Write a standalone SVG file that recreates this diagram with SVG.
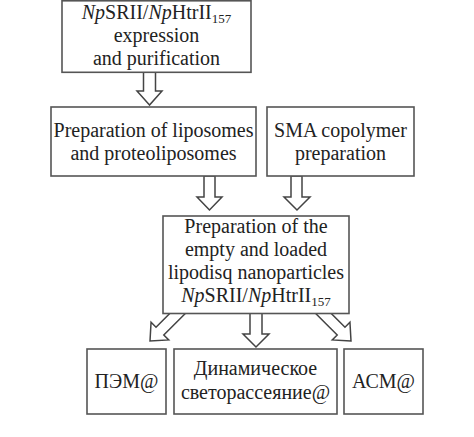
<svg xmlns="http://www.w3.org/2000/svg" width="474" height="437" viewBox="0 0 474 437">
<style>
.box{fill:#fff;stroke:#555;stroke-width:1.6}
.arr{fill:#fff;stroke:#444;stroke-width:1.5;stroke-linejoin:miter}
text{font-family:"Liberation Serif","Times New Roman",serif;font-size:20px;fill:#222;text-anchor:middle}
.i{font-style:italic}
.sub{font-size:13px}
</style>
<defs>
<path id="a" d="M0,0 L-12.5,-14 L-5.5,-14 L-5.5,-60 L5.5,-60 L5.5,-14 L12.5,-14 Z"/>
</defs>
<rect width="474" height="437" fill="#fff"/>
<g id="connectors">
<path class="arr" d="M149.5,105 L137,91 L143.5,91 L143.5,72 L155.5,72 L155.5,91 L162,91 Z"/>
<path class="arr" d="M209.5,210 L197,197 L204,197 L204,176 L215,176 L215,197 L222,197 Z"/>
<path class="arr" d="M297,210 L284,197 L291,197 L291,176 L302,176 L302,197 L310,197 Z"/>
<path class="arr" d="M256,347 L243,334 L250,334 L250,313 L262,313 L262,334 L269,334 Z"/>
<use href="#a" class="arr" transform="translate(150,341) rotate(45)"/>
<use href="#a" class="arr" transform="translate(351,341) rotate(-45)"/>
</g>
<g id="n1">
<rect class="box" x="62" y="0.8" width="189" height="71.5"/>
<text x="156.5" y="19"><tspan class="i">Np</tspan>SRII/<tspan class="i">Np</tspan>HtrII<tspan class="sub" dy="4">157</tspan></text>
<text x="156.5" y="42">expression</text>
<text x="156.5" y="65">and purification</text>
</g>
<g id="n2">
<rect class="box" x="51" y="107" width="205" height="69"/>
<text x="153.5" y="137">Preparation of liposomes</text>
<text x="153.5" y="160">and proteoliposomes</text>
</g>
<g id="n3">
<rect class="box" x="267" y="107" width="147" height="69"/>
<text x="340.5" y="137">SMA copolymer</text>
<text x="340.5" y="160">preparation</text>
</g>
<g id="n4">
<rect class="box" x="163" y="216" width="186" height="97.5"/>
<text x="256" y="233">Preparation of the</text>
<text x="256" y="256">empty and loaded</text>
<text x="256" y="279">lipodisq nanoparticles</text>
<text x="256" y="302"><tspan class="i">Np</tspan>SRII/<tspan class="i">Np</tspan>HtrII<tspan class="sub" dy="4">157</tspan></text>
</g>
<g id="n5">
<rect class="box" x="87" y="349" width="79" height="65"/>
<text x="126.5" y="388">ПЭМ@</text>
</g>
<g id="n6">
<rect class="box" x="174" y="349" width="163" height="65"/>
<text x="255.5" y="375">Динамическое</text>
<text x="255.5" y="399">светорассеяние@</text>
</g>
<g id="n7">
<rect class="box" x="344" y="349" width="79" height="65"/>
<text x="383.5" y="388">АСМ@</text>
</g>
</svg>
